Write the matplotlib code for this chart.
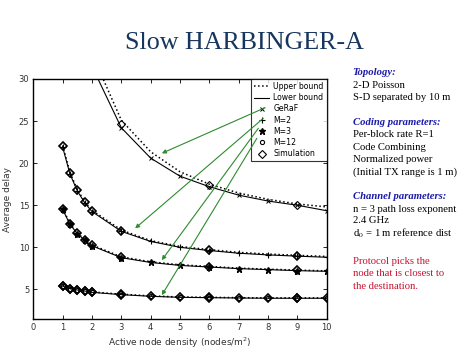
import matplotlib.pyplot as plt

# data
x_geraf = [2, 3, 4, 5, 6, 7, 8, 9, 10]
geraf_lower = [31.5, 24.2, 20.6, 18.45, 17.2, 16.2, 15.5, 15.0, 14.35]
geraf_upper = [33.0, 25.1, 21.35, 18.98, 17.5, 16.45, 15.7, 15.15, 14.8]
geraf_sim_x = [3, 6, 9]
geraf_sim = [24.7, 17.4, 15.0]

x_m = [1, 1.25, 1.5, 1.75, 2, 3, 4, 5, 6, 7, 8, 9, 10]
m2_lower = [21.9, 18.7, 16.7, 15.3, 14.25, 11.9, 10.7, 10.0, 9.62, 9.3, 9.1, 8.95, 8.82]
m2_upper = [22.1, 18.9, 16.85, 15.45, 14.4, 12.05, 10.8, 10.1, 9.72, 9.4, 9.2, 9.05, 8.92]
m3_lower = [14.5, 12.72, 11.62, 10.83, 10.18, 8.77, 8.2, 7.85, 7.66, 7.47, 7.35, 7.23, 7.15]
m3_upper = [14.6, 12.82, 11.72, 10.93, 10.28, 8.87, 8.28, 7.92, 7.73, 7.53, 7.41, 7.29, 7.21]
m12_lower = [5.4, 5.08, 4.93, 4.81, 4.65, 4.38, 4.18, 4.06, 4.02, 3.98, 3.95, 3.95, 3.95]
m12_upper = [5.46, 5.13, 4.98, 4.86, 4.7, 4.43, 4.23, 4.1, 4.06, 4.02, 3.99, 3.99, 3.99]
sim_x = [1, 1.25, 1.5, 1.75, 2, 3, 6, 9]
m2_sim = [22.0, 18.8, 16.8, 15.4, 14.35, 11.97, 9.67, 9.0]
m3_sim = [14.54, 12.76, 11.65, 10.86, 10.22, 8.8, 7.69, 7.25]
m12_sim = [5.43, 5.1, 4.95, 4.83, 4.67, 4.4, 4.04, 3.96]

fig = plt.figure(figsize=(4.74, 3.55), dpi=100)
ax = fig.add_axes([0.0703, 0.1006, 0.6189, 0.6769])

lw = 0.8
ax.plot(x_geraf, geraf_upper, 'k:', lw=1.1)
ax.plot(x_geraf, geraf_lower, 'k-', lw=lw)
ax.plot(x_geraf[1:], geraf_lower[1:], 'kx', ms=3, mew=0.7)
ax.plot(geraf_sim_x, geraf_sim, 'kD', ms=4, mfc='none', mew=0.8)

for up, lo in [(m2_upper, m2_lower), (m3_upper, m3_lower), (m12_upper, m12_lower)]:
    ax.plot(x_m, up, 'k:', lw=1.1)
    ax.plot(x_m, lo, 'k-', lw=lw)

ax.plot(x_m, m2_lower, 'k+', ms=5, mew=0.8)
ax.plot(x_m, m3_lower, 'k*', ms=5)
ax.plot(x_m, m12_lower, 'ko', ms=3, mfc='none', mew=0.8)
for s in [m2_sim, m3_sim, m12_sim]:
    ax.plot(sim_x, s, 'kD', ms=4, mfc='none', mew=1.2)
ax.plot(x_m, m12_lower, 'kD', ms=4, mfc='none', mew=1.2)

ax.set_xlim(0, 10)
ax.set_ylim(1.45, 30)
ax.set_xticks(range(0, 11))
ax.set_yticks([5, 10, 15, 20, 25, 30])
ax.tick_params(direction='in', length=3, width=0.6, labelsize=6, pad=3,
               top=True, right=True, labelcolor='#333333')
for sp in ax.spines.values():
    sp.set_linewidth(1.0)
ax.set_xlabel('Active node density (nodes/m$^2$)', fontsize=6.5, color='#333333', labelpad=2)
ax.set_ylabel('Average delay', fontsize=6.5, color='#333333', labelpad=5)

# legend
handles = [
    plt.Line2D([], [], color='k', ls=':', lw=1.1),
    plt.Line2D([], [], color='k', ls='-', lw=lw),
    plt.Line2D([], [], color='k', ls='none', marker='x', ms=3, mew=0.7),
    plt.Line2D([], [], color='k', ls='none', marker='+', ms=5, mew=0.8),
    plt.Line2D([], [], color='k', ls='none', marker='*', ms=5),
    plt.Line2D([], [], color='k', ls='none', marker='o', ms=3, mfc='none', mew=0.8),
    plt.Line2D([], [], color='k', ls='none', marker='D', ms=4, mfc='none', mew=0.8),
]
labels = ['Upper bound', 'Lower bound', 'GeRaF', 'M=2', 'M=3', 'M=12', 'Simulation']
leg = ax.legend(handles, labels, loc='upper right', fontsize=5.6, frameon=True, fancybox=False,
                edgecolor='k', borderaxespad=0, handlelength=2.0, handletextpad=0.5,
                handleheight=0.6, labelspacing=0.28, borderpad=0.4)
leg.get_frame().set_linewidth(0.8)

# green arrows from legend entries to curves
arrows = [((7.90, 26.59), (4.38, 21.17)),
          ((7.84, 25.33), (3.47, 12.25)),
          ((7.67, 24.14), (4.38, 8.48)),
          ((7.62, 22.95), (4.38, 4.32))]
for start, end in arrows:
    ax.annotate('', xy=end, xytext=start, zorder=10,
                arrowprops=dict(arrowstyle='-|>', color='#2e8b2e', lw=0.8,
                                mutation_scale=6, shrinkA=0, shrinkB=0))

fig.text(0.515, 0.879, 'Slow HARBINGER-A', fontsize=18.7, family='Liberation Serif',
         color='#17365d', ha='center', va='center')

# side text
x0 = 352.7 / 474
lines = [
    (72.7, 'Topology:', 'head'),
    (85, '2-D Poisson', 'body'),
    (97.3, 'S-D separated by 10 m', 'body'),
    (122.7, 'Coding parameters:', 'head'),
    (135, 'Per-block rate R=1', 'body'),
    (147.3, 'Code Combining', 'body'),
    (159.3, 'Normalized power', 'body'),
    (171.7, '(Initial TX range is 1 m)', 'body'),
    (196.7, 'Channel parameters:', 'head'),
    (209, 'n = 3 path loss exponent', 'body'),
    (221, '2.4 GHz', 'body'),
    (233.3, 'd$_0$ = 1 m reference dist', 'body'),
    (261.7, 'Protocol picks the', 'red'),
    (274, 'node that is closest to', 'red'),
    (286.7, 'the destination.', 'red'),
]
for y, t, kind in lines:
    kw = dict(fontsize=7.7, family='Liberation Serif', va='center', ha='left')
    if kind == 'head':
        kw.update(color='#1a1aa8', fontweight='bold', fontstyle='italic')
    elif kind == 'red':
        kw.update(color='#c8102e')
    else:
        kw.update(color='black')
    if 'd$_0$' in t:
        kw['math_fontfamily'] = 'stix'
    fig.text(x0, 1 - y / 355, t, **kw)

plt.savefig('out.png', dpi=100)
